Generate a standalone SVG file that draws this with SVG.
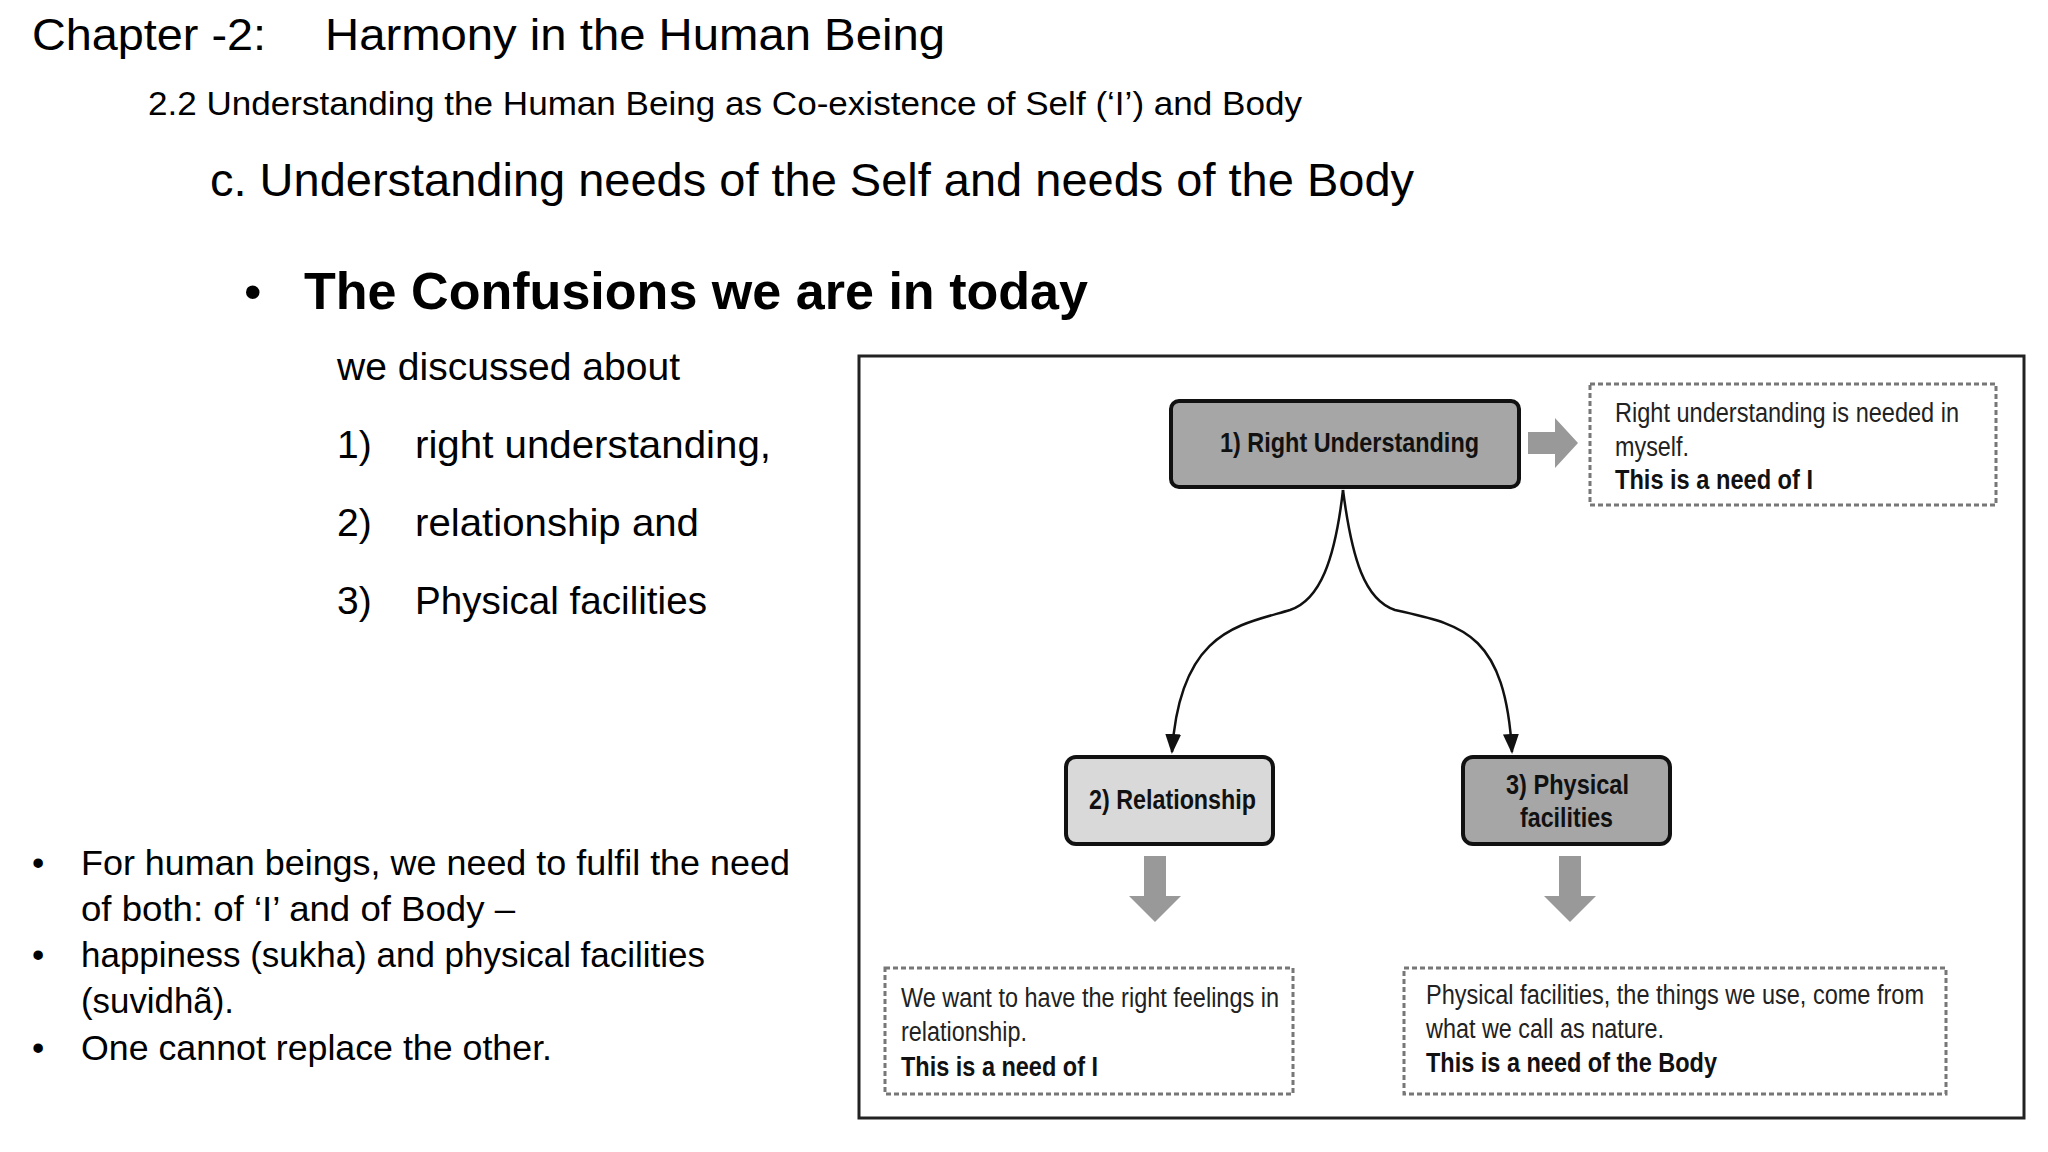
<svg xmlns="http://www.w3.org/2000/svg" width="2048" height="1152" viewBox="0 0 2048 1152">
<defs>
<style>
.t{font-family:"Liberation Sans",Arial,sans-serif;fill:#000}
.d{font-family:"Liberation Sans",Arial,sans-serif;fill:#222;font-size:27px}
.db{font-family:"Liberation Sans",Arial,sans-serif;fill:#111;font-size:28px;font-weight:bold}
.node{stroke:#111;stroke-width:4}
.dash{fill:#fff;stroke:#777;stroke-width:3;stroke-dasharray:5 3}
.ga{fill:#999}
.con{fill:none;stroke:#111;stroke-width:2.5}
</style>
<marker id="ah" viewBox="0 0 10 10" refX="9" refY="5" markerWidth="7" markerHeight="7" orient="auto" markerUnits="userSpaceOnUse">
<path d="M0,0 L10,5 L0,10 z" fill="#111" transform="scale(1)"/>
</marker>
<marker id="ah2" viewBox="0 0 10 10" refX="9" refY="5" markerWidth="20" markerHeight="20" orient="auto" markerUnits="userSpaceOnUse">
<path d="M0,1 L10,5 L0,9 z" fill="#111"/>
</marker>
</defs>
<rect width="2048" height="1152" fill="#fff"/>
<g id="text-left">
<text class="t" x="32" y="50" font-size="44" textLength="234" lengthAdjust="spacingAndGlyphs">Chapter -2:</text>
<text class="t" x="325" y="50" font-size="44" textLength="620" lengthAdjust="spacingAndGlyphs">Harmony in the Human Being</text>
<text class="t" x="148" y="115" font-size="33" textLength="1154" lengthAdjust="spacingAndGlyphs">2.2 Understanding the Human Being as Co-existence of Self (‘I’) and Body</text>
<text class="t" x="210" y="196" font-size="46" textLength="1204" lengthAdjust="spacingAndGlyphs">c. Understanding needs of the Self and needs of the Body</text>
<text class="t" x="244" y="309" font-size="50">•</text>
<text class="t" x="304" y="309" font-size="52" font-weight="bold" textLength="784" lengthAdjust="spacingAndGlyphs">The Confusions we are in today</text>
<text class="t" x="337" y="380" font-size="39" textLength="343" lengthAdjust="spacingAndGlyphs">we discussed about</text>
<text class="t" x="337" y="458" font-size="39">1)</text>
<text class="t" x="415" y="458" font-size="39" textLength="356" lengthAdjust="spacingAndGlyphs">right understanding,</text>
<text class="t" x="337" y="536" font-size="39">2)</text>
<text class="t" x="415" y="536" font-size="39" textLength="284" lengthAdjust="spacingAndGlyphs">relationship and</text>
<text class="t" x="337" y="614" font-size="39">3)</text>
<text class="t" x="415" y="614" font-size="39" textLength="292" lengthAdjust="spacingAndGlyphs">Physical facilities</text>
<text class="t" x="32" y="875" font-size="35">•</text>
<text class="t" x="81" y="875" font-size="35" textLength="709" lengthAdjust="spacingAndGlyphs">For human beings, we need to fulfil the need</text>
<text class="t" x="81" y="921" font-size="35" textLength="434" lengthAdjust="spacingAndGlyphs">of both: of ‘I’ and of Body –</text>
<text class="t" x="32" y="967" font-size="35">•</text>
<text class="t" x="81" y="967" font-size="35" textLength="624" lengthAdjust="spacingAndGlyphs">happiness (sukha) and physical facilities</text>
<text class="t" x="81" y="1013" font-size="35" textLength="153" lengthAdjust="spacingAndGlyphs">(suvidhã).</text>
<text class="t" x="32" y="1060" font-size="35">•</text>
<text class="t" x="81" y="1060" font-size="35" textLength="471" lengthAdjust="spacingAndGlyphs">One cannot replace the other.</text>
</g>
<rect id="frame" x="859" y="356" width="1165" height="762" fill="#fff" stroke="#222" stroke-width="3"/>
<g id="connectors">
<path class="con" d="M1343,490 C1335,560 1320,600 1290,610 C1240,625 1180,630 1172,752" marker-end="url(#ah2)"/>
<path class="con" d="M1343,490 C1352,560 1365,600 1395,610 C1460,625 1505,630 1512,752" marker-end="url(#ah2)"/>
<polygon class="ga" points="1528,432 1555,432 1555,418 1578,443 1555,468 1555,454 1528,454"/>
<polygon class="ga" points="1144,856 1166,856 1166,896 1181,896 1155,922 1129,896 1144,896"/>
<polygon class="ga" points="1559,856 1581,856 1581,896 1596,896 1570,922 1544,896 1559,896"/>
</g>
<g id="n1">
<rect class="node" x="1171" y="401" width="348" height="86" rx="8" fill="#a6a6a6"/>
<text class="db" x="1220" y="452" textLength="259" lengthAdjust="spacingAndGlyphs">1) Right Understanding</text>
</g>
<g id="n2">
<rect class="node" x="1066" y="757" width="207" height="87" rx="10" fill="#d9d9d9"/>
<text class="db" x="1089" y="809" textLength="167" lengthAdjust="spacingAndGlyphs">2) Relationship</text>
</g>
<g id="n3">
<rect class="node" x="1463" y="757" width="207" height="87" rx="10" fill="#a6a6a6"/>
<text class="db" x="1506" y="794" textLength="123" lengthAdjust="spacingAndGlyphs">3) Physical</text>
<text class="db" x="1520" y="827" textLength="93" lengthAdjust="spacingAndGlyphs">facilities</text>
</g>
<g id="note1">
<rect class="dash" x="1590" y="384" width="406" height="121"/>
<text class="d" x="1615" y="422" textLength="344" lengthAdjust="spacingAndGlyphs">Right understanding is needed in</text>
<text class="d" x="1615" y="456" textLength="74" lengthAdjust="spacingAndGlyphs">myself.</text>
<text class="db" x="1615" y="489" textLength="198" lengthAdjust="spacingAndGlyphs">This is a need of I</text>
</g>
<g id="note2">
<rect class="dash" x="885" y="968" width="408" height="126"/>
<text class="d" x="901" y="1007" textLength="378" lengthAdjust="spacingAndGlyphs">We want to have the right feelings in</text>
<text class="d" x="901" y="1041" textLength="126" lengthAdjust="spacingAndGlyphs">relationship.</text>
<text class="db" x="901" y="1076" textLength="197" lengthAdjust="spacingAndGlyphs">This is a need of I</text>
</g>
<g id="note3">
<rect class="dash" x="1404" y="968" width="542" height="126"/>
<text class="d" x="1426" y="1004" textLength="498" lengthAdjust="spacingAndGlyphs">Physical facilities, the things we use, come from</text>
<text class="d" x="1426" y="1038" textLength="238" lengthAdjust="spacingAndGlyphs">what we call as nature.</text>
<text class="db" x="1426" y="1072" textLength="291" lengthAdjust="spacingAndGlyphs">This is a need of the Body</text>
</g>
</svg>
